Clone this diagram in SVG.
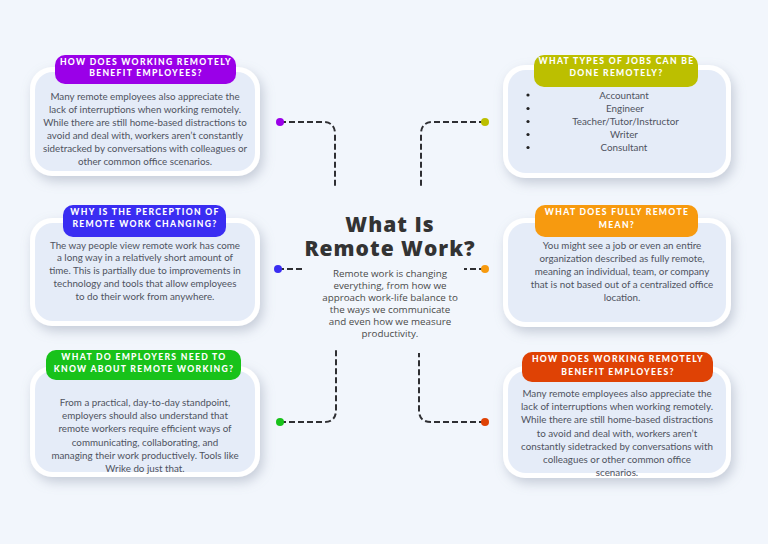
<svg xmlns="http://www.w3.org/2000/svg" width="768" height="544" viewBox="0 0 768 544">
<defs>
<filter id="sh" x="-20%" y="-20%" width="140%" height="150%">
<feDropShadow dx="3" dy="5" stdDeviation="6" flood-color="#8d97ab" flood-opacity="0.45"/>
</filter>
<style>
.outer{fill:#ffffff;filter:url(#sh)}
.inner{fill:#e5ecf8}
.hd{font-family:"Lato","Roboto",sans-serif;font-weight:900;font-size:8.6px;letter-spacing:1.3px;fill:#ffffff;text-anchor:middle}
.bd{font-family:"Lato","Open Sans",sans-serif;font-size:9.8px;fill:#4f5360;text-anchor:middle}
.conn{fill:none;stroke:#2f2f33;stroke-width:2;stroke-dasharray:6 3}
.title{font-family:"Open Sans","Lato",sans-serif;font-weight:800;font-size:21px;fill:#333333;text-anchor:middle;letter-spacing:1px}
.sub{font-family:"Open Sans","Lato",sans-serif;font-size:9.8px;fill:#4a4a4a;text-anchor:middle}
</style>
</defs>
<rect width="768" height="544" fill="#f2f6fc"/>

<g id="connectors">
<path class="conn" d="M280,122 H323 Q335,122 335,134 V188"/>
<path class="conn" d="M485,122 H433 Q421,122 421,134 V188"/>
<path class="conn" d="M278,269 H302"/>
<path class="conn" d="M485,269 H464"/>
<path class="conn" d="M280,422 H324 Q336,422 336,410 V348"/>
<path class="conn" d="M485,422 H431 Q419,422 419,410 V353"/>
<circle cx="280" cy="122" r="4" fill="#9a00e8"/>
<circle cx="485" cy="122" r="4" fill="#bcbf00"/>
<circle cx="278" cy="269" r="4" fill="#3a2df2"/>
<circle cx="485" cy="269" r="4" fill="#f79a0f"/>
<circle cx="280" cy="422" r="4" fill="#18c21a"/>
<circle cx="485" cy="422" r="4" fill="#df4205"/>
</g>

<g id="center">
<text class="title" x="390" y="231.5">What Is</text>
<text class="title" x="390" y="256">Remote Work?</text>
<text class="sub" x="390" y="276.5">Remote work is changing</text>
<text class="sub" x="390" y="288.5">everything, from how we</text>
<text class="sub" x="390" y="300.5">approach work-life balance to</text>
<text class="sub" x="390" y="312.5">the ways we communicate</text>
<text class="sub" x="390" y="324.5">and even how we measure</text>
<text class="sub" x="390" y="336.5">productivity.</text>
</g>

<g id="card-benefit-left">
<rect class="outer" x="30" y="67" width="230" height="109" rx="22"/>
<rect class="inner" x="35" y="72" width="220" height="99" rx="18"/>
<rect x="55" y="55" width="181" height="29" rx="10" fill="#9a00e8"/>
<text class="hd" x="146" y="64.5">HOW DOES WORKING REMOTELY</text>
<text class="hd" x="146" y="76">BENEFIT EMPLOYEES?</text>
<text class="bd" x="145" y="100">Many remote employees also appreciate the</text>
<text class="bd" x="145" y="112.9">lack of interruptions when working remotely.</text>
<text class="bd" x="145" y="125.8">While there are still home-based distractions to</text>
<text class="bd" x="145" y="138.7">avoid and deal with, workers aren’t constantly</text>
<text class="bd" x="145" y="151.6">sidetracked by conversations with colleagues or</text>
<text class="bd" x="145" y="164.5">other common office scenarios.</text>
</g>

<g id="card-perception">
<rect class="outer" x="30" y="218" width="230" height="108" rx="22"/>
<rect class="inner" x="35" y="223" width="220" height="98" rx="18"/>
<rect x="63" y="205" width="163" height="32" rx="10" fill="#3a2df2"/>
<text class="hd" x="145" y="214.5">WHY IS THE PERCEPTION OF</text>
<text class="hd" x="145" y="227">REMOTE WORK CHANGING?</text>
<text class="bd" x="145" y="248.5">The way people view remote work has come</text>
<text class="bd" x="145" y="261.3">a long way in a relatively short amount of</text>
<text class="bd" x="145" y="274.1">time. This is partially due to improvements in</text>
<text class="bd" x="145" y="286.9">technology and tools that allow employees</text>
<text class="bd" x="145" y="299.7">to do their work from anywhere.</text>
</g>

<g id="card-employers">
<rect class="outer" x="30" y="366" width="230" height="111" rx="22"/>
<rect class="inner" x="35" y="371" width="220" height="101" rx="18"/>
<rect x="46" y="350" width="195" height="30" rx="10" fill="#18c21a"/>
<text class="hd" x="144" y="359.5">WHAT DO EMPLOYERS NEED TO</text>
<text class="hd" x="144" y="372">KNOW ABOUT REMOTE WORKING?</text>
<text class="bd" x="145" y="406">From a practical, day-to-day standpoint,</text>
<text class="bd" x="145" y="419.2">employers should also understand that</text>
<text class="bd" x="145" y="432.4">remote workers require efficient ways of</text>
<text class="bd" x="145" y="445.6">communicating, collaborating, and</text>
<text class="bd" x="145" y="458.8">managing their work productively. Tools like</text>
<text class="bd" x="145" y="472">Wrike do just that.</text>
</g>

<g id="card-jobs">
<rect class="outer" x="503" y="65" width="228" height="113" rx="22"/>
<rect class="inner" x="508" y="70" width="218" height="103" rx="18"/>
<rect x="534" y="55" width="164" height="32" rx="10" fill="#bcbf00"/>
<text class="hd" x="616.5" y="63.5">WHAT TYPES OF JOBS CAN BE</text>
<text class="hd" x="616.5" y="76">DONE REMOTELY?</text>
<g fill="#222">
<circle cx="528" cy="95" r="1.6"/>
<circle cx="528" cy="108.5" r="1.6"/>
<circle cx="528" cy="121.5" r="1.6"/>
<circle cx="528" cy="134.5" r="1.6"/>
<circle cx="528" cy="147.5" r="1.6"/>
</g>
<text class="bd" x="624" y="98.5">Accountant</text>
<text class="bd" x="625" y="112">Engineer</text>
<text class="bd" x="625.5" y="124.5">Teacher/Tutor/Instructor</text>
<text class="bd" x="624" y="137.5">Writer</text>
<text class="bd" x="624" y="150.5">Consultant</text>
</g>

<g id="card-fully-remote">
<rect class="outer" x="503" y="218" width="228" height="109" rx="22"/>
<rect class="inner" x="508" y="223" width="218" height="99" rx="18"/>
<rect x="535" y="205" width="163" height="32" rx="10" fill="#f79a0f"/>
<text class="hd" x="617" y="215">WHAT DOES FULLY REMOTE</text>
<text class="hd" x="617" y="227.5">MEAN?</text>
<text class="bd" x="622" y="248.5">You might see a job or even an entire</text>
<text class="bd" x="622" y="261.5">organization described as fully remote,</text>
<text class="bd" x="622" y="274.5">meaning an individual, team, or company</text>
<text class="bd" x="622" y="287.5">that is not based out of a centralized office</text>
<text class="bd" x="622" y="300.5">location.</text>
</g>

<g id="card-benefit-right">
<rect class="outer" x="503" y="366" width="228" height="112" rx="22"/>
<rect class="inner" x="508" y="371" width="218" height="102" rx="18"/>
<rect x="522" y="352" width="191" height="30" rx="10" fill="#df4205"/>
<text class="hd" x="618" y="361.5">HOW DOES WORKING REMOTELY</text>
<text class="hd" x="618" y="374.5">BENEFIT EMPLOYEES?</text>
<text class="bd" x="617" y="397">Many remote employees also appreciate the</text>
<text class="bd" x="617" y="410.2">lack of interruptions when working remotely.</text>
<text class="bd" x="617" y="423.4">While there are still home-based distractions</text>
<text class="bd" x="617" y="436.6">to avoid and deal with, workers aren’t</text>
<text class="bd" x="617" y="449.8">constantly sidetracked by conversations with</text>
<text class="bd" x="617" y="463">colleagues or other common office</text>
<text class="bd" x="617" y="475.5">scenarios.</text>
</g>
</svg>
